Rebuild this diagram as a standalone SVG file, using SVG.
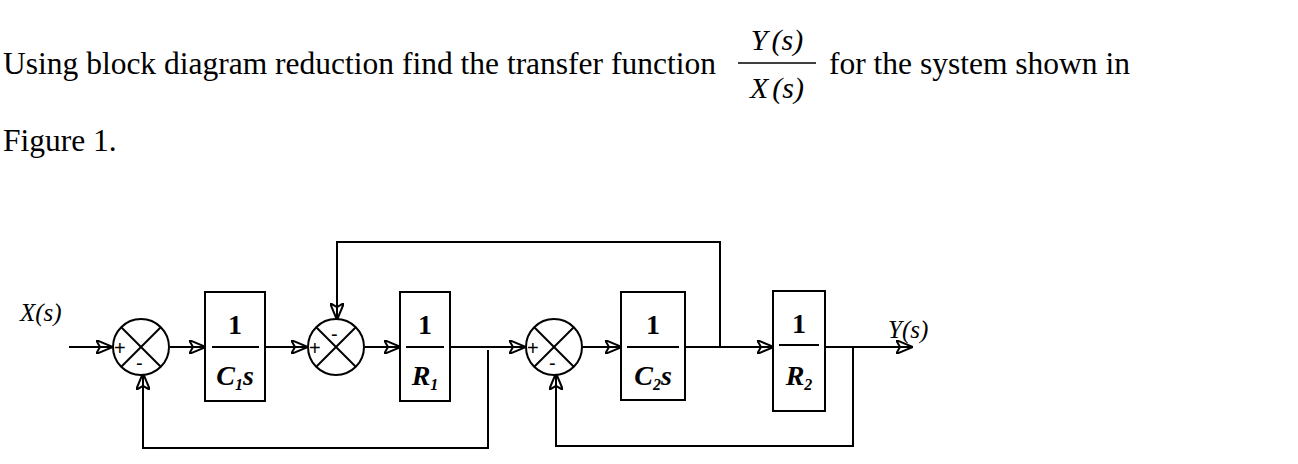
<svg xmlns="http://www.w3.org/2000/svg" width="1298" height="464" viewBox="0 0 1298 464">
<style>
.t{font-family:"Liberation Serif",serif;font-size:31.5px;fill:#000}
.i{font-family:"Liberation Serif",serif;font-style:italic;fill:#000}
.b{font-family:"Liberation Serif",serif;font-weight:bold;font-size:28px;fill:#000}
.bi{font-family:"Liberation Serif",serif;font-weight:bold;font-style:italic;font-size:28px;fill:#000}
.s{font-family:"Liberation Sans",sans-serif;font-size:20px;fill:#000}
line,path,rect,circle{stroke:#000;stroke-width:2;fill:none}
rect,circle{fill:#fff}
</style>
<defs><marker id="a" markerWidth="17" markerHeight="14" refX="16" refY="7" orient="auto" markerUnits="userSpaceOnUse"><path d="M0,0 L17,7 L0,14 L4,7 Z" fill="#000" stroke="none"/></marker></defs>
<text class="t" x="3" y="74">Using block diagram reduction find the transfer function</text>
<text class="i" x="777" y="50" font-size="30" text-anchor="middle">Y<tspan dx="4">(</tspan><tspan>s</tspan>)</text>
<line x1="738" y1="63" x2="816" y2="63" style="stroke-width:1.5"/>
<text class="i" x="777" y="98" font-size="30" text-anchor="middle">X<tspan dx="4">(</tspan><tspan>s</tspan>)</text>
<text class="t" x="829" y="74">for the system shown in</text>
<text class="t" x="3" y="151">Figure 1.</text>
<g id="connectors">
<path d="M69,347 H112" marker-end="url(#a)"/>
<path d="M170,347 H205" marker-end="url(#a)"/>
<path d="M265,347 H307" marker-end="url(#a)"/>
<path d="M365,347 H400" marker-end="url(#a)"/>
<path d="M450,347 H525" marker-end="url(#a)"/>
<path d="M583,347 H621" marker-end="url(#a)"/>
<path d="M685,347 H773" marker-end="url(#a)"/>
<path d="M825,347 H912" marker-end="url(#a)"/>
<path d="M720,347 V242 H337 V319" marker-end="url(#a)"/>
<path d="M488,350 V448 H143 V374" marker-end="url(#a)"/>
<path d="M853,348 V446 H556 V374" marker-end="url(#a)"/>
</g>
<text id="X" class="i" x="20" y="321" font-size="25">X(s)</text>
<text id="Y" class="i" x="888" y="338" font-size="25">Y(s)</text>
<g id="sum1"><circle cx="141" cy="347" r="28"/><line x1="121" y1="327" x2="161" y2="367"/><line x1="161" y1="327" x2="121" y2="367"/><text class="s" x="114" y="355">+</text><text class="s" x="136" y="370">-</text></g>
<g id="sum2"><circle cx="336" cy="347" r="28"/><line x1="316" y1="327" x2="356" y2="367"/><line x1="356" y1="327" x2="316" y2="367"/><text class="s" x="309" y="355">+</text><text class="s" x="331" y="341">-</text></g>
<g id="sum3"><circle cx="554" cy="347" r="28"/><line x1="534" y1="327" x2="574" y2="367"/><line x1="574" y1="327" x2="534" y2="367"/><text class="s" x="527" y="355">+</text><text class="s" x="549" y="370">-</text></g>
<g id="b1"><rect x="205" y="292" width="60" height="109"/><text class="b" x="235" y="334" text-anchor="middle">1</text><line x1="212" y1="347" x2="259" y2="347"/><text class="bi" x="235" y="385" text-anchor="middle">C<tspan font-size="16" dy="5">1</tspan><tspan dy="-5">s</tspan></text></g>
<g id="b2"><rect x="400" y="292" width="50" height="109"/><text class="b" x="425" y="334" text-anchor="middle">1</text><line x1="406" y1="347" x2="444" y2="347"/><text class="bi" x="425" y="385" text-anchor="middle">R<tspan font-size="16" dy="5">1</tspan></text></g>
<g id="b3"><rect x="621" y="292" width="64" height="108"/><text class="b" x="653" y="334" text-anchor="middle">1</text><line x1="627" y1="347" x2="679" y2="347"/><text class="bi" x="653" y="385" text-anchor="middle">C<tspan font-size="16" dy="5">2</tspan><tspan dy="-5">s</tspan></text></g>
<g id="b4"><rect x="773" y="291" width="52" height="120"/><text class="b" x="799" y="333" text-anchor="middle">1</text><line x1="779" y1="345" x2="819" y2="345"/><text class="bi" x="799" y="385" text-anchor="middle">R<tspan font-size="16" dy="5">2</tspan></text></g>
</svg>
